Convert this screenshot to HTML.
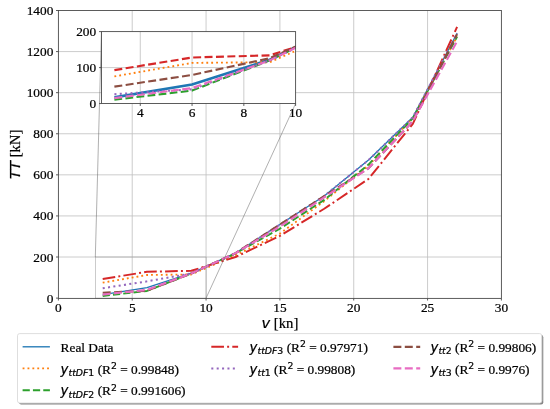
<!DOCTYPE html>
<html lang="en"><head><meta charset="utf-8"><title>TT vs v</title>
<style>html,body{margin:0;padding:0;background:#fff}body{width:550px;height:409px;overflow:hidden}svg{display:block}svg text{stroke:#000;stroke-width:0.22px;stroke-linejoin:round}</style></head>
<body>
<svg width="550" height="409" viewBox="0 0 550 409">
<defs><clipPath id="cm"><rect x="58.40" y="10.50" width="443.00" height="287.60"/></clipPath><clipPath id="ci"><rect x="101.45" y="31.60" width="194.15" height="71.95"/></clipPath></defs>
<rect width="550" height="409" fill="#fff"/>
<g stroke="#bfbfbf" stroke-width="0.8" fill="none">
<line x1="132.23" y1="10.50" x2="132.23" y2="298.10"/>
<line x1="206.07" y1="10.50" x2="206.07" y2="298.10"/>
<line x1="279.90" y1="10.50" x2="279.90" y2="298.10"/>
<line x1="353.73" y1="10.50" x2="353.73" y2="298.10"/>
<line x1="427.57" y1="10.50" x2="427.57" y2="298.10"/>
<line x1="58.40" y1="257.01" x2="501.40" y2="257.01"/>
<line x1="58.40" y1="215.93" x2="501.40" y2="215.93"/>
<line x1="58.40" y1="174.84" x2="501.40" y2="174.84"/>
<line x1="58.40" y1="133.76" x2="501.40" y2="133.76"/>
<line x1="58.40" y1="92.67" x2="501.40" y2="92.67"/>
<line x1="58.40" y1="51.59" x2="501.40" y2="51.59"/>
</g>
<g clip-path="url(#cm)" fill="none" stroke-linejoin="round">
<polyline points="102.70,294.55 147.00,287.62 191.30,273.24 235.60,253.11 279.90,224.56 324.20,196.00 368.50,160.05 412.80,117.32 457.10,33.30" stroke="#1f77b4" stroke-width="1.33"/>
<polyline points="102.70,282.69 147.00,274.99 191.30,274.48 235.60,255.17 279.90,233.60 324.20,201.14 368.50,165.60 412.80,117.73 457.10,36.59" stroke="#ff7f0e" stroke-width="1.85" stroke-dasharray="1.85,3.05"/>
<polyline points="102.70,295.94 147.00,290.91 191.30,273.45 235.60,253.32 279.90,228.67 324.20,199.91 368.50,164.57 412.80,118.35 457.10,36.59" stroke="#2ca02c" stroke-width="1.95" stroke-dasharray="7.21,3.12"/>
<polyline points="102.70,279.00 147.00,271.81 191.30,270.78 235.60,257.01 279.90,235.86 324.20,208.74 368.50,178.95 412.80,123.90 457.10,26.93" stroke="#d62728" stroke-width="1.98" stroke-dasharray="12.67,3.17,1.98,3.17"/>
<polyline points="102.70,288.24 147.00,281.36 191.30,273.45 235.60,253.11 279.90,224.56 324.20,196.00 368.50,160.05 412.80,117.32 457.10,33.30" stroke="#9467bd" stroke-width="2.03" stroke-dasharray="2.03,3.35"/>
<polyline points="102.70,292.76 147.00,290.70 191.30,273.45 235.60,253.11 279.90,224.56 324.20,196.21 368.50,168.27 412.80,121.23 457.10,34.12" stroke="#8c4e42" stroke-width="2.15" stroke-dasharray="7.96,3.44"/>
<polyline points="102.70,294.61 147.00,289.88 191.30,273.45 235.60,253.11 279.90,226.61 324.20,197.44 368.50,168.27 412.80,121.23 457.10,41.31" stroke="#e86cc2" stroke-width="2.15" stroke-dasharray="7.96,3.44"/>
</g>
<g stroke="#606060" stroke-width="0.5" fill="none">
<rect x="95.32" y="257.01" width="110.75" height="41.09" stroke="#8c8c8c" stroke-width="0.45"/>
<line x1="101.45" y1="31.60" x2="95.32" y2="257.01"/>
<line x1="295.60" y1="103.55" x2="206.07" y2="298.10"/>
</g>
<g stroke="#4a4a4a" stroke-width="0.9" fill="none">
<rect x="58.40" y="10.50" width="443.00" height="287.90"/>
<line x1="58.40" y1="298.40" x2="58.40" y2="300.50"/>
<line x1="132.23" y1="298.40" x2="132.23" y2="300.50"/>
<line x1="206.07" y1="298.40" x2="206.07" y2="300.50"/>
<line x1="279.90" y1="298.40" x2="279.90" y2="300.50"/>
<line x1="353.73" y1="298.40" x2="353.73" y2="300.50"/>
<line x1="427.57" y1="298.40" x2="427.57" y2="300.50"/>
<line x1="501.40" y1="298.40" x2="501.40" y2="300.50"/>
<line x1="56.00" y1="298.10" x2="58.40" y2="298.10"/>
<line x1="56.00" y1="257.01" x2="58.40" y2="257.01"/>
<line x1="56.00" y1="215.93" x2="58.40" y2="215.93"/>
<line x1="56.00" y1="174.84" x2="58.40" y2="174.84"/>
<line x1="56.00" y1="133.76" x2="58.40" y2="133.76"/>
<line x1="56.00" y1="92.67" x2="58.40" y2="92.67"/>
<line x1="56.00" y1="51.59" x2="58.40" y2="51.59"/>
<line x1="56.00" y1="10.50" x2="58.40" y2="10.50"/>
</g>
<g font-family="'Liberation Serif', 'Times New Roman', serif" font-size="13.33" fill="#000">
<text x="58.40" y="312.30" text-anchor="middle">0</text>
<text x="132.23" y="312.30" text-anchor="middle">5</text>
<text x="206.07" y="312.30" text-anchor="middle">10</text>
<text x="279.90" y="312.30" text-anchor="middle">15</text>
<text x="353.73" y="312.30" text-anchor="middle">20</text>
<text x="427.57" y="312.30" text-anchor="middle">25</text>
<text x="501.40" y="312.30" text-anchor="middle">30</text>
<text x="53.30" y="302.60" text-anchor="end">0</text>
<text x="53.30" y="261.51" text-anchor="end">200</text>
<text x="53.30" y="220.43" text-anchor="end">400</text>
<text x="53.30" y="179.34" text-anchor="end">600</text>
<text x="53.30" y="138.26" text-anchor="end">800</text>
<text x="53.30" y="97.17" text-anchor="end">1000</text>
<text x="53.30" y="56.09" text-anchor="end">1200</text>
<text x="53.30" y="15.00" text-anchor="end">1400</text>
</g>
<rect x="101.45" y="31.60" width="194.15" height="71.95" fill="#fff"/>
<g stroke="#bfbfbf" stroke-width="0.8" fill="none">
<line x1="140.28" y1="31.60" x2="140.28" y2="103.55"/>
<line x1="192.05" y1="31.60" x2="192.05" y2="103.55"/>
<line x1="243.83" y1="31.60" x2="243.83" y2="103.55"/>
<line x1="101.45" y1="67.58" x2="295.60" y2="67.58"/>
</g>
<g clip-path="url(#ci)" fill="none" stroke-linejoin="round">
<polyline points="114.39,97.33 192.05,84.48 269.71,59.66 347.37,21.89" stroke="#1f77b4" stroke-width="2.67"/>
<polyline points="114.39,76.39 192.05,62.90 269.71,62.18 347.37,28.36" stroke="#ff7f0e" stroke-width="1.85" stroke-dasharray="1.85,3.05"/>
<polyline points="114.39,99.66 192.05,90.60 269.71,60.38 347.37,22.61" stroke="#2ca02c" stroke-width="2.10" stroke-dasharray="7.77,3.36"/>
<polyline points="114.39,70.09 192.05,57.50 269.71,55.34 347.37,30.52" stroke="#d62728" stroke-width="2.15" stroke-dasharray="7.96,3.44"/>
<polyline points="114.39,94.20 192.05,89.34 269.71,60.38 347.37,22.61" stroke="#9467bd" stroke-width="2.03" stroke-dasharray="2.03,3.35"/>
<polyline points="114.39,86.64 192.05,74.95 269.71,58.22 347.37,23.69" stroke="#8c4e42" stroke-width="2.15" stroke-dasharray="7.96,3.44"/>
<polyline points="114.39,98.15 192.05,88.08 269.71,60.38 347.37,22.61" stroke="#e86cc2" stroke-width="2.15" stroke-dasharray="7.96,3.44"/>
</g>
<g stroke="#4a4a4a" stroke-width="0.9" fill="none">
<rect x="101.45" y="31.60" width="194.15" height="71.95"/>
<line x1="140.28" y1="103.55" x2="140.28" y2="105.95"/>
<line x1="192.05" y1="103.55" x2="192.05" y2="105.95"/>
<line x1="243.83" y1="103.55" x2="243.83" y2="105.95"/>
<line x1="295.60" y1="103.55" x2="295.60" y2="105.95"/>
<line x1="99.05" y1="103.55" x2="101.45" y2="103.55"/>
<line x1="99.05" y1="67.58" x2="101.45" y2="67.58"/>
<line x1="99.05" y1="31.60" x2="101.45" y2="31.60"/>
</g>
<g font-family="'Liberation Serif', 'Times New Roman', serif" font-size="13.33" fill="#000">
<text x="140.28" y="117.15" text-anchor="middle">4</text>
<text x="192.05" y="117.15" text-anchor="middle">6</text>
<text x="243.83" y="117.15" text-anchor="middle">8</text>
<text x="295.60" y="117.15" text-anchor="middle">10</text>
<text x="96.15" y="108.05" text-anchor="end">0</text>
<text x="96.15" y="72.08" text-anchor="end">100</text>
<text x="96.15" y="36.10" text-anchor="end">200</text>
</g>
<text x="279.90" y="327.80" text-anchor="middle" font-size="14.67" font-family="'Liberation Serif', 'Times New Roman', serif"><tspan font-family="'DejaVu Sans', 'Liberation Sans', sans-serif" font-style="italic">v</tspan> [kn]</text>
<text transform="translate(20.30,154.30) rotate(-90)" text-anchor="middle" font-size="14.67" font-family="'Liberation Serif', 'Times New Roman', serif"><tspan font-family="'DejaVu Sans', 'Liberation Sans', sans-serif" font-style="italic">TT</tspan> [kN]</text>
<rect x="19.00" y="335.10" width="524.30" height="69.40" rx="2.2" fill="#858585"/>
<rect x="17.50" y="333.60" width="524.30" height="69.40" rx="2.2" fill="#fff" stroke="#dadada" stroke-width="0.9"/>
<line x1="22.60" y1="346.80" x2="49.90" y2="346.80" stroke="#1f77b4" stroke-width="1.33"/>
<text x="60.60" y="352.00" font-size="13.33" font-family="'Liberation Serif', 'Times New Roman', serif">Real Data</text>
<line x1="22.60" y1="368.40" x2="49.90" y2="368.40" stroke="#ff7f0e" stroke-width="1.85" stroke-dasharray="1.85,3.05"/>
<text x="60.60" y="373.60" font-size="13.33" font-family="'Liberation Serif', 'Times New Roman', serif"><tspan font-family="'DejaVu Sans', 'Liberation Sans', sans-serif" font-style="italic">y</tspan><tspan font-family="'DejaVu Sans', 'Liberation Sans', sans-serif" font-style="italic" font-size="9.33" dy="2.2">ttDF</tspan><tspan font-family="'DejaVu Sans', 'Liberation Sans', sans-serif" font-size="9.33">1</tspan><tspan dy="-2.2"> (R</tspan><tspan font-family="'DejaVu Sans', 'Liberation Sans', sans-serif" font-size="9.33" dy="-4.8">2</tspan><tspan dy="4.8"> = 0.99848)</tspan></text>
<line x1="22.60" y1="390.20" x2="49.90" y2="390.20" stroke="#2ca02c" stroke-width="1.95" stroke-dasharray="7.21,3.12"/>
<text x="60.60" y="395.40" font-size="13.33" font-family="'Liberation Serif', 'Times New Roman', serif"><tspan font-family="'DejaVu Sans', 'Liberation Sans', sans-serif" font-style="italic">y</tspan><tspan font-family="'DejaVu Sans', 'Liberation Sans', sans-serif" font-style="italic" font-size="9.33" dy="2.2">ttDF</tspan><tspan font-family="'DejaVu Sans', 'Liberation Sans', sans-serif" font-size="9.33">2</tspan><tspan dy="-2.2"> (R</tspan><tspan font-family="'DejaVu Sans', 'Liberation Sans', sans-serif" font-size="9.33" dy="-4.8">2</tspan><tspan dy="4.8"> = 0.991606)</tspan></text>
<line x1="211.30" y1="346.80" x2="238.10" y2="346.80" stroke="#d62728" stroke-width="1.98" stroke-dasharray="12.67,3.17,1.98,3.17"/>
<text x="249.60" y="352.00" font-size="13.33" font-family="'Liberation Serif', 'Times New Roman', serif"><tspan font-family="'DejaVu Sans', 'Liberation Sans', sans-serif" font-style="italic">y</tspan><tspan font-family="'DejaVu Sans', 'Liberation Sans', sans-serif" font-style="italic" font-size="9.33" dy="2.2">ttDF</tspan><tspan font-family="'DejaVu Sans', 'Liberation Sans', sans-serif" font-size="9.33">3</tspan><tspan dy="-2.2"> (R</tspan><tspan font-family="'DejaVu Sans', 'Liberation Sans', sans-serif" font-size="9.33" dy="-4.8">2</tspan><tspan dy="4.8"> = 0.97971)</tspan></text>
<line x1="211.30" y1="368.40" x2="238.10" y2="368.40" stroke="#9467bd" stroke-width="2.03" stroke-dasharray="2.03,3.35"/>
<text x="249.60" y="373.60" font-size="13.33" font-family="'Liberation Serif', 'Times New Roman', serif"><tspan font-family="'DejaVu Sans', 'Liberation Sans', sans-serif" font-style="italic">y</tspan><tspan font-family="'DejaVu Sans', 'Liberation Sans', sans-serif" font-style="italic" font-size="9.33" dy="2.2">tt</tspan><tspan font-family="'DejaVu Sans', 'Liberation Sans', sans-serif" font-size="9.33">1</tspan><tspan dy="-2.2"> (R</tspan><tspan font-family="'DejaVu Sans', 'Liberation Sans', sans-serif" font-size="9.33" dy="-4.8">2</tspan><tspan dy="4.8"> = 0.99808)</tspan></text>
<line x1="393.40" y1="346.80" x2="420.20" y2="346.80" stroke="#8c4e42" stroke-width="2.15" stroke-dasharray="7.96,3.44"/>
<text x="430.50" y="352.00" font-size="13.33" font-family="'Liberation Serif', 'Times New Roman', serif"><tspan font-family="'DejaVu Sans', 'Liberation Sans', sans-serif" font-style="italic">y</tspan><tspan font-family="'DejaVu Sans', 'Liberation Sans', sans-serif" font-style="italic" font-size="9.33" dy="2.2">tt</tspan><tspan font-family="'DejaVu Sans', 'Liberation Sans', sans-serif" font-size="9.33">2</tspan><tspan dy="-2.2"> (R</tspan><tspan font-family="'DejaVu Sans', 'Liberation Sans', sans-serif" font-size="9.33" dy="-4.8">2</tspan><tspan dy="4.8"> = 0.99806)</tspan></text>
<line x1="393.40" y1="368.40" x2="420.20" y2="368.40" stroke="#e86cc2" stroke-width="2.15" stroke-dasharray="7.96,3.44"/>
<text x="430.50" y="373.60" font-size="13.33" font-family="'Liberation Serif', 'Times New Roman', serif"><tspan font-family="'DejaVu Sans', 'Liberation Sans', sans-serif" font-style="italic">y</tspan><tspan font-family="'DejaVu Sans', 'Liberation Sans', sans-serif" font-style="italic" font-size="9.33" dy="2.2">tt</tspan><tspan font-family="'DejaVu Sans', 'Liberation Sans', sans-serif" font-size="9.33">3</tspan><tspan dy="-2.2"> (R</tspan><tspan font-family="'DejaVu Sans', 'Liberation Sans', sans-serif" font-size="9.33" dy="-4.8">2</tspan><tspan dy="4.8"> = 0.9976)</tspan></text>
</svg>
</body></html>
